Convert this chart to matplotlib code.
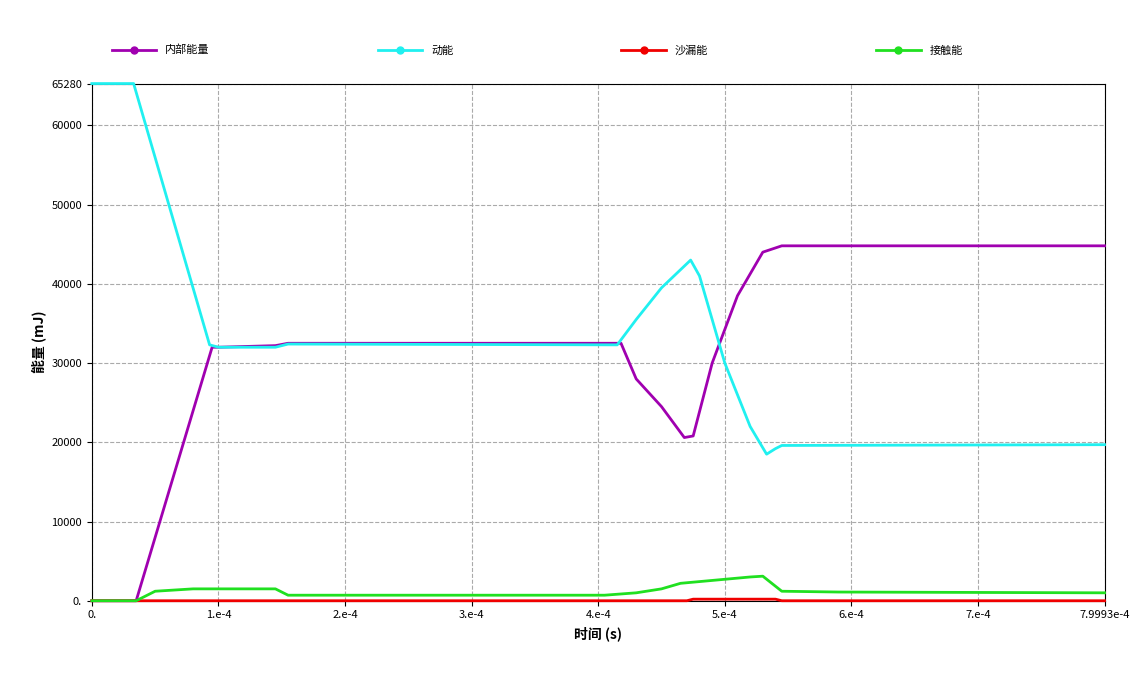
import numpy as np
import matplotlib.pyplot as plt
from matplotlib.lines import Line2D

plt.rcParams['font.family'] = ['Noto Sans CJK SC', 'DejaVu Sans']

# time in units of 1e-4 s
t_ke = [0, 0.33, 0.93, 1.0, 1.45, 1.55, 4.15, 4.3, 4.5, 4.73, 4.8, 5.0, 5.2, 5.33, 5.4, 5.45, 7.9993]
ke = [65280, 65280, 32300, 32000, 32000, 32400, 32300, 35500, 39500, 43000, 41000, 30000, 22000, 18500, 19200, 19600, 19700]

t_ie = [0, 0.35, 0.95, 1.0, 1.45, 1.55, 4.18, 4.3, 4.5, 4.68, 4.75, 4.9, 5.1, 5.3, 5.45, 7.9993]
ie = [0, 0, 32000, 32000, 32200, 32500, 32500, 28000, 24500, 20600, 20800, 30000, 38500, 44000, 44800, 44800]

t_ce = [0, 0.35, 0.5, 0.8, 1.45, 1.55, 4.05, 4.3, 4.5, 4.65, 5.2, 5.3, 5.45, 5.9, 7.9993]
ce = [0, 0, 1200, 1500, 1500, 700, 700, 1000, 1500, 2200, 3000, 3100, 1200, 1100, 1000]

t_hg = [0, 4.7, 4.75, 5.4, 5.45, 7.9993]
hg = [0, 0, 200, 200, 0, 0]

names = ['内部能量', '动能', '沙漏能', '接触能']
colors = ['#a000b0', '#20f0f0', '#f00000', '#20e020']

fig, ax = plt.subplots(figsize=(11.34, 6.85), dpi=100)
fig.subplots_adjust(left=0.081, right=0.974, top=0.878, bottom=0.123)

s = 1e-4
ax.plot(np.array(t_ie) * s, ie, color=colors[0], lw=2, clip_on=False, zorder=3)
ax.plot(np.array(t_ke) * s, ke, color=colors[1], lw=2, clip_on=False, zorder=3)
ax.plot(np.array(t_hg) * s, hg, color=colors[2], lw=2, clip_on=False, zorder=3)
ax.plot(np.array(t_ce) * s, ce, color=colors[3], lw=2, clip_on=False, zorder=3)

ax.set_xlim(0, 7.9993e-4)
ax.set_ylim(0, 65280)
xt = [0, 1e-4, 2e-4, 3e-4, 4e-4, 5e-4, 6e-4, 7e-4, 7.9993e-4]
ax.set_xticks(xt)
ax.set_xticklabels(['0.', '1.e-4', '2.e-4', '3.e-4', '4.e-4', '5.e-4', '6.e-4', '7.e-4', '7.9993e-4'], fontsize=8)
yt = [0, 10000, 20000, 30000, 40000, 50000, 60000, 65280]
ax.set_yticks(yt)
ax.set_yticklabels(['0.', '10000', '20000', '30000', '40000', '50000', '60000', '65280'], fontsize=8)
ax.grid(True, ls='--', color='#aaaaaa', lw=0.8)
ax.set_xlabel('时间 (s)', fontsize=10, fontweight='bold')
ax.set_ylabel('能量 (mJ)', fontsize=10, fontweight='bold')

handles = [Line2D([], [], color=c, lw=2, marker='o', markersize=5) for c in colors]
ax.legend(handles, names, loc='lower left', bbox_to_anchor=(0.01, 1.035, 0.86, 0.05),
          ncol=4, mode='expand', frameon=False, fontsize=8, handlelength=4, numpoints=1)

fig.savefig('out.png')
